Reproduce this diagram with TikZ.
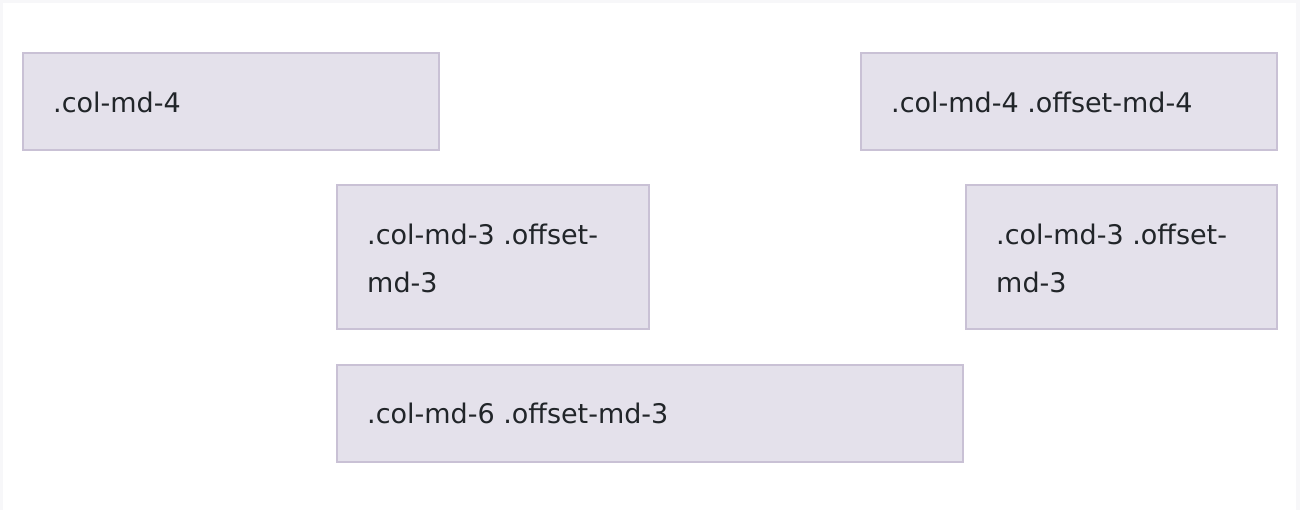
\documentclass[tikz,border=0pt]{standalone}
\usepackage{fontspec}
\setmainfont{DejaVu Sans}
\definecolor{framegray}{RGB}{247,247,249}
\definecolor{cellfill}{RGB}{228,225,235}
\definecolor{celldraw}{RGB}{201,193,213}
\definecolor{txt}{RGB}{33,37,41}
\tikzset{
  cell/.style={draw=celldraw, fill=cellfill, line width=2pt, rectangle, inner sep=0pt, anchor=north west},
  lbl/.style={anchor=base west, inner sep=0pt, text=txt, font=\fontsize{27}{48}\selectfont}
}
\begin{document}
\begin{tikzpicture}[x=1pt,y=-1pt]
\useasboundingbox (0,0) rectangle (1300,510);
\fill[framegray] (0,0) rectangle (1300,510);
\fill[white] (3,3) rectangle (1296,510);
% boxes
\node[cell, minimum width=416pt, minimum height=97pt] (b1) at (22,52) {};
\node[cell, minimum width=416pt, minimum height=97pt] (b2) at (860,52) {};
\node[cell, minimum width=312pt, minimum height=144pt] (b3) at (336,184) {};
\node[cell, minimum width=311pt, minimum height=144pt] (b4) at (965,184) {};
\node[cell, minimum width=626pt, minimum height=97pt] (b5) at (336,364) {};
% labels
\node[lbl] (t1) at (53,113) {.col-md-4};
\node[lbl] (t2) at (891,113) {.col-md-4 .offset-md-4};
\node[lbl] (t3a) at (367,245) {.col-md-3 .offset-};
\node[lbl] (t3b) at (367,293) {md-3};
\node[lbl] (t4a) at (996,245) {.col-md-3 .offset-};
\node[lbl] (t4b) at (996,293) {md-3};
\node[lbl] (t5) at (367,423) {.col-md-6 .offset-md-3};
\end{tikzpicture}
\end{document}
